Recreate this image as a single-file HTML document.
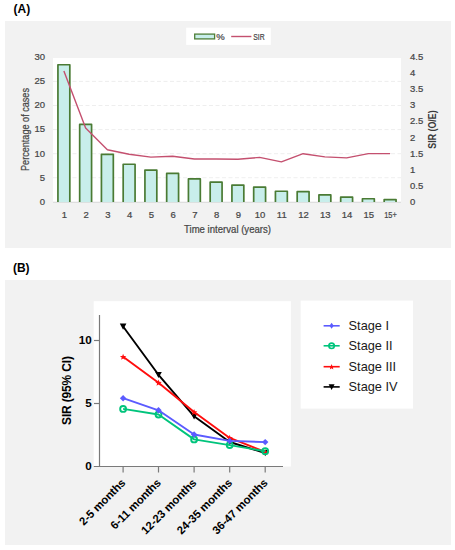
<!DOCTYPE html>
<html><head><meta charset="utf-8"><style>
html,body{margin:0;padding:0;background:#ffffff;width:455px;height:550px;overflow:hidden}
svg{display:block}
text{font-family:"Liberation Sans", sans-serif}
.ta{font-size:9.5px;fill:#464646;stroke:#464646;stroke-width:0.22px}
.tab{font-size:10.4px;fill:#3a3a3a;font-weight:bold}
.lab{font-size:12px;font-weight:bold;fill:#000}
.tb{font-size:12px;font-weight:bold;fill:#000}
.tl{font-size:12.75px;fill:#1a1a1a}
</style></head><body>
<svg width="455" height="550" viewBox="0 0 455 550">
<rect x="5" y="21" width="446" height="227" fill="#f2f2f2"/>
<rect x="53" y="58" width="348" height="143.8" fill="#ffffff"/>
<line x1="53" y1="177.73" x2="401" y2="177.73" stroke="#ececec" stroke-width="0.9" stroke-dasharray="4,2.5"/>
<line x1="53" y1="153.65" x2="401" y2="153.65" stroke="#ececec" stroke-width="0.9" stroke-dasharray="4,2.5"/>
<line x1="53" y1="129.57" x2="401" y2="129.57" stroke="#ececec" stroke-width="0.9" stroke-dasharray="4,2.5"/>
<line x1="53" y1="105.5" x2="401" y2="105.5" stroke="#ececec" stroke-width="0.9" stroke-dasharray="4,2.5"/>
<line x1="53" y1="81.42" x2="401" y2="81.42" stroke="#ececec" stroke-width="0.9" stroke-dasharray="4,2.5"/>
<line x1="53" y1="202.4" x2="401" y2="202.4" stroke="#dedede" stroke-width="1.2"/>
<rect x="57.93" y="64.75" width="11.89" height="137.35" fill="#c8eeeb"/>
<path d="M57.93,202.1 L57.93,64.75 L69.82,64.75 L69.82,202.1" fill="none" stroke="#4a7b34" stroke-width="1.7" stroke-linejoin="round"/>
<rect x="79.68" y="124.45" width="11.89" height="77.65" fill="#c8eeeb"/>
<path d="M79.68,202.1 L79.68,124.45 L91.57,124.45 L91.57,202.1" fill="none" stroke="#4a7b34" stroke-width="1.7" stroke-linejoin="round"/>
<rect x="101.43" y="154.36" width="11.89" height="47.74" fill="#c8eeeb"/>
<path d="M101.43,202.1 L101.43,154.36 L113.32,154.36 L113.32,202.1" fill="none" stroke="#4a7b34" stroke-width="1.7" stroke-linejoin="round"/>
<rect x="123.18" y="164.27" width="11.89" height="37.83" fill="#c8eeeb"/>
<path d="M123.18,202.1 L123.18,164.27 L135.07,164.27 L135.07,202.1" fill="none" stroke="#4a7b34" stroke-width="1.7" stroke-linejoin="round"/>
<rect x="144.93" y="170.05" width="11.89" height="32.05" fill="#c8eeeb"/>
<path d="M144.93,202.1 L144.93,170.05 L156.82,170.05 L156.82,202.1" fill="none" stroke="#4a7b34" stroke-width="1.7" stroke-linejoin="round"/>
<rect x="166.68" y="173.47" width="11.89" height="28.63" fill="#c8eeeb"/>
<path d="M166.68,202.1 L166.68,173.47 L178.57,173.47 L178.57,202.1" fill="none" stroke="#4a7b34" stroke-width="1.7" stroke-linejoin="round"/>
<rect x="188.43" y="178.96" width="11.89" height="23.14" fill="#c8eeeb"/>
<path d="M188.43,202.1 L188.43,178.96 L200.32,178.96 L200.32,202.1" fill="none" stroke="#4a7b34" stroke-width="1.7" stroke-linejoin="round"/>
<rect x="210.18" y="182.14" width="11.89" height="19.96" fill="#c8eeeb"/>
<path d="M210.18,202.1 L210.18,182.14 L222.07,182.14 L222.07,202.1" fill="none" stroke="#4a7b34" stroke-width="1.7" stroke-linejoin="round"/>
<rect x="231.93" y="185.03" width="11.89" height="17.07" fill="#c8eeeb"/>
<path d="M231.93,202.1 L231.93,185.03 L243.82,185.03 L243.82,202.1" fill="none" stroke="#4a7b34" stroke-width="1.7" stroke-linejoin="round"/>
<rect x="253.68" y="187.15" width="11.89" height="14.95" fill="#c8eeeb"/>
<path d="M253.68,202.1 L253.68,187.15 L265.57,187.15 L265.57,202.1" fill="none" stroke="#4a7b34" stroke-width="1.7" stroke-linejoin="round"/>
<rect x="275.43" y="191.24" width="11.89" height="10.86" fill="#c8eeeb"/>
<path d="M275.43,202.1 L275.43,191.24 L287.32,191.24 L287.32,202.1" fill="none" stroke="#4a7b34" stroke-width="1.7" stroke-linejoin="round"/>
<rect x="297.18" y="191.67" width="11.89" height="10.43" fill="#c8eeeb"/>
<path d="M297.18,202.1 L297.18,191.67 L309.07,191.67 L309.07,202.1" fill="none" stroke="#4a7b34" stroke-width="1.7" stroke-linejoin="round"/>
<rect x="318.93" y="194.95" width="11.89" height="7.15" fill="#c8eeeb"/>
<path d="M318.93,202.1 L318.93,194.95 L330.82,194.95 L330.82,202.1" fill="none" stroke="#4a7b34" stroke-width="1.7" stroke-linejoin="round"/>
<rect x="340.68" y="197.06" width="11.89" height="5.04" fill="#c8eeeb"/>
<path d="M340.68,202.1 L340.68,197.06 L352.57,197.06 L352.57,202.1" fill="none" stroke="#4a7b34" stroke-width="1.7" stroke-linejoin="round"/>
<rect x="362.43" y="198.75" width="11.89" height="3.35" fill="#c8eeeb"/>
<path d="M362.43,202.1 L362.43,198.75 L374.32,198.75 L374.32,202.1" fill="none" stroke="#4a7b34" stroke-width="1.7" stroke-linejoin="round"/>
<rect x="384.18" y="199.57" width="11.89" height="2.53" fill="#c8eeeb"/>
<path d="M384.18,202.1 L384.18,199.57 L396.07,199.57 L396.07,202.1" fill="none" stroke="#4a7b34" stroke-width="1.7" stroke-linejoin="round"/>
<polyline points="63.88,71.1 85.62,128.1 107.38,149.7 129.12,154.2 150.88,157.1 172.62,156.3 194.38,159 216.12,159 237.88,159.2 259.62,157.4 281.38,161.9 303.12,153.7 324.88,156.9 346.62,157.9 368.38,153.6 390.12,153.6" fill="none" stroke="#c4506f" stroke-width="1.4" stroke-linejoin="round"/>
<text x="45" y="205" text-anchor="end" class="ta">0</text>
<text x="45" y="180.82" text-anchor="end" class="ta">5</text>
<text x="45" y="156.64" text-anchor="end" class="ta">10</text>
<text x="45" y="132.46" text-anchor="end" class="ta">15</text>
<text x="45" y="108.28" text-anchor="end" class="ta">20</text>
<text x="45" y="84.1" text-anchor="end" class="ta">25</text>
<text x="45" y="59.92" text-anchor="end" class="ta">30</text>
<text x="410" y="205" class="ta">0</text>
<text x="410" y="188.88" class="ta">0.5</text>
<text x="410" y="172.76" class="ta">1</text>
<text x="410" y="156.64" class="ta">1.5</text>
<text x="410" y="140.52" class="ta">2</text>
<text x="410" y="124.4" class="ta">2.5</text>
<text x="410" y="108.28" class="ta">3</text>
<text x="410" y="92.16" class="ta">3.5</text>
<text x="410" y="76.04" class="ta">4</text>
<text x="410" y="59.92" class="ta">4.5</text>
<text x="64.28" y="217.6" text-anchor="middle" class="ta">1</text>
<text x="86.03" y="217.6" text-anchor="middle" class="ta">2</text>
<text x="107.78" y="217.6" text-anchor="middle" class="ta">3</text>
<text x="129.53" y="217.6" text-anchor="middle" class="ta">4</text>
<text x="151.28" y="217.6" text-anchor="middle" class="ta">5</text>
<text x="173.03" y="217.6" text-anchor="middle" class="ta">6</text>
<text x="194.78" y="217.6" text-anchor="middle" class="ta">7</text>
<text x="216.53" y="217.6" text-anchor="middle" class="ta">8</text>
<text x="238.28" y="217.6" text-anchor="middle" class="ta">9</text>
<text x="260.02" y="217.6" text-anchor="middle" class="ta">10</text>
<text x="281.77" y="217.6" text-anchor="middle" class="ta">11</text>
<text x="303.52" y="217.6" text-anchor="middle" class="ta">12</text>
<text x="325.27" y="217.6" text-anchor="middle" class="ta">13</text>
<text x="347.02" y="217.6" text-anchor="middle" class="ta">14</text>
<text x="368.77" y="217.6" text-anchor="middle" class="ta">15</text>
<text x="390.52" y="217.6" text-anchor="middle" class="ta" textLength="12.6" lengthAdjust="spacingAndGlyphs">15+</text>
<text x="227.5" y="233" text-anchor="middle" class="ta" style="font-size:10.2px" textLength="87" lengthAdjust="spacingAndGlyphs">Time interval (years)</text>
<text transform="translate(29.3,129.5) rotate(-90)" text-anchor="middle" class="ta" style="font-size:10.2px" textLength="83" lengthAdjust="spacingAndGlyphs">Percentage of cases</text>
<text transform="translate(436.4,129.5) rotate(-90)" text-anchor="middle" class="tab" textLength="38.3" lengthAdjust="spacingAndGlyphs">SIR (O/E)</text>
<rect x="186.2" y="27.7" width="84.6" height="17.2" fill="#ffffff"/>
<rect x="194.7" y="34.1" width="19.9" height="4.8" fill="#c8eeeb" stroke="#4f7f38" stroke-width="1.3"/>
<text x="216.3" y="39.9" class="ta">%</text>
<line x1="231.2" y1="36.5" x2="251.4" y2="36.5" stroke="#c4506f" stroke-width="1.4"/>
<text x="253.2" y="39.9" class="ta" textLength="11.4" lengthAdjust="spacingAndGlyphs">SIR</text>
<text x="13.6" y="12.9" class="lab">(A)</text>
<rect x="5" y="280" width="446" height="265" fill="#f2f2f2"/>
<rect x="93.7" y="301.2" width="197.2" height="165.3" fill="#ffffff"/>
<line x1="99.5" y1="315" x2="99.5" y2="466.5" stroke="#7a7a7a" stroke-width="1.2"/>
<line x1="93.8" y1="466.5" x2="283" y2="466.5" stroke="#7a7a7a" stroke-width="1.2"/>
<line x1="94" y1="403.5" x2="99.5" y2="403.5" stroke="#7a7a7a" stroke-width="1.2"/>
<line x1="94" y1="340.5" x2="99.5" y2="340.5" stroke="#7a7a7a" stroke-width="1.2"/>
<line x1="123.1" y1="466.5" x2="123.1" y2="472.5" stroke="#7a7a7a" stroke-width="1.2"/>
<line x1="158.5" y1="466.5" x2="158.5" y2="472.5" stroke="#7a7a7a" stroke-width="1.2"/>
<line x1="194.1" y1="466.5" x2="194.1" y2="472.5" stroke="#7a7a7a" stroke-width="1.2"/>
<line x1="229.7" y1="466.5" x2="229.7" y2="472.5" stroke="#7a7a7a" stroke-width="1.2"/>
<line x1="265.2" y1="466.5" x2="265.2" y2="472.5" stroke="#7a7a7a" stroke-width="1.2"/>
<text x="91.7" y="470.4" text-anchor="end" class="tb" style="font-size:11.7px">0</text>
<text x="91.7" y="407.4" text-anchor="end" class="tb" style="font-size:11.7px">5</text>
<text x="91.7" y="344.4" text-anchor="end" class="tb" style="font-size:11.7px">10</text>
<text transform="translate(70.8,390.5) rotate(-90)" text-anchor="middle" class="tb" textLength="68.8" lengthAdjust="spacing">SIR (95% CI)</text>
<text transform="translate(126.3,483.5) rotate(-45)" text-anchor="end" class="tb" style="font-size:11.3px">2-5 months</text>
<text transform="translate(161.7,483.5) rotate(-45)" text-anchor="end" class="tb" style="font-size:11.3px">6-11 months</text>
<text transform="translate(197.3,483.5) rotate(-45)" text-anchor="end" class="tb" style="font-size:11.3px">12-23 months</text>
<text transform="translate(232.9,483.5) rotate(-45)" text-anchor="end" class="tb" style="font-size:11.3px">24-35 months</text>
<text transform="translate(268.4,483.5) rotate(-45)" text-anchor="end" class="tb" style="font-size:11.3px">36-47 months</text>
<polyline points="123.1,326.5 158.5,374.8 194.1,416.3 229.7,442 265.2,453" fill="none" stroke="#000000" stroke-width="1.9" stroke-linejoin="round"/>
<path d="M119.8,323.6 L126.4,323.6 L123.1,329.7 Z" fill="#000000"/>
<path d="M155.2,371.9 L161.8,371.9 L158.5,378 Z" fill="#000000"/>
<path d="M190.8,413.4 L197.4,413.4 L194.1,419.5 Z" fill="#000000"/>
<path d="M226.4,439.1 L233,439.1 L229.7,445.2 Z" fill="#000000"/>
<path d="M261.9,450.1 L268.5,450.1 L265.2,456.2 Z" fill="#000000"/>
<polyline points="123.1,356.8 158.5,382.7 194.1,412.1 229.7,437.9 265.2,452" fill="none" stroke="#ff0d0d" stroke-width="1.9" stroke-linejoin="round"/>
<polygon points="123.1,353.7 123.95,355.93 126.33,356.05 124.48,357.55 125.1,359.85 123.1,358.55 121.1,359.85 121.72,357.55 119.87,356.05 122.25,355.93" fill="#ff0d0d"/>
<polygon points="158.5,379.6 159.35,381.83 161.73,381.95 159.88,383.45 160.5,385.75 158.5,384.45 156.5,385.75 157.12,383.45 155.27,381.95 157.65,381.83" fill="#ff0d0d"/>
<polygon points="194.1,409 194.95,411.23 197.33,411.35 195.48,412.85 196.1,415.15 194.1,413.85 192.1,415.15 192.72,412.85 190.87,411.35 193.25,411.23" fill="#ff0d0d"/>
<polygon points="229.7,434.8 230.55,437.03 232.93,437.15 231.08,438.65 231.7,440.95 229.7,439.65 227.7,440.95 228.32,438.65 226.47,437.15 228.85,437.03" fill="#ff0d0d"/>
<polygon points="265.2,448.9 266.05,451.13 268.43,451.25 266.58,452.75 267.2,455.05 265.2,453.75 263.2,455.05 263.82,452.75 261.97,451.25 264.35,451.13" fill="#ff0d0d"/>
<polyline points="123.1,408.9 158.5,414.5 194.1,439.4 229.7,445.1 265.2,451.2" fill="none" stroke="#00c47c" stroke-width="1.9" stroke-linejoin="round"/>
<circle cx="123.1" cy="408.9" r="2.95" fill="none" stroke="#00c47c" stroke-width="1.9"/>
<circle cx="158.5" cy="414.5" r="2.95" fill="none" stroke="#00c47c" stroke-width="1.9"/>
<circle cx="194.1" cy="439.4" r="2.95" fill="none" stroke="#00c47c" stroke-width="1.9"/>
<circle cx="229.7" cy="445.1" r="2.95" fill="none" stroke="#00c47c" stroke-width="1.9"/>
<circle cx="265.2" cy="451.2" r="2.95" fill="none" stroke="#00c47c" stroke-width="1.9"/>
<polyline points="123.1,398.2 158.5,410.3 194.1,434.5 229.7,440.9 265.2,442.1" fill="none" stroke="#5b5bff" stroke-width="1.9" stroke-linejoin="round"/>
<path d="M123.1,395 L126.3,398.2 L123.1,401.4 L119.9,398.2 Z" fill="#5b5bff"/>
<path d="M158.5,407.1 L161.7,410.3 L158.5,413.5 L155.3,410.3 Z" fill="#5b5bff"/>
<path d="M194.1,431.3 L197.3,434.5 L194.1,437.7 L190.9,434.5 Z" fill="#5b5bff"/>
<path d="M229.7,437.7 L232.9,440.9 L229.7,444.1 L226.5,440.9 Z" fill="#5b5bff"/>
<path d="M265.2,438.9 L268.4,442.1 L265.2,445.3 L262,442.1 Z" fill="#5b5bff"/>
<rect x="300.7" y="300.6" width="112.3" height="108" fill="#ffffff"/>
<line x1="323.6" y1="325.8" x2="339.7" y2="325.8" stroke="#5b5bff" stroke-width="1.6"/>
<path d="M331.6,322.8 L333.7,325.8 L331.6,328.8 L329.5,325.8 Z" fill="#5b5bff"/>
<text x="348.6" y="330.3" class="tl">Stage I</text>
<line x1="323.6" y1="345.8" x2="339.7" y2="345.8" stroke="#00c47c" stroke-width="1.6"/>
<circle cx="331.6" cy="345.8" r="2.7" fill="none" stroke="#00c47c" stroke-width="1.7"/>
<text x="348.6" y="350.3" class="tl">Stage II</text>
<line x1="323.6" y1="366.7" x2="339.7" y2="366.7" stroke="#ff0d0d" stroke-width="1.6"/>
<polygon points="331.6,364 332.36,365.95 334.45,366.07 332.84,367.4 333.36,369.43 331.6,368.3 329.84,369.43 330.36,367.4 328.75,366.07 330.84,365.95" fill="#ff0d0d"/>
<text x="348.6" y="371.2" class="tl">Stage III</text>
<line x1="323.6" y1="386.9" x2="339.7" y2="386.9" stroke="#000000" stroke-width="1.6"/>
<path d="M328.6,384.3 L334.6,384.3 L331.6,390.1 Z" fill="#000000"/>
<text x="348.6" y="391.4" class="tl">Stage IV</text>
<text x="12.9" y="272.2" class="lab">(B)</text>
</svg>
</body></html>
